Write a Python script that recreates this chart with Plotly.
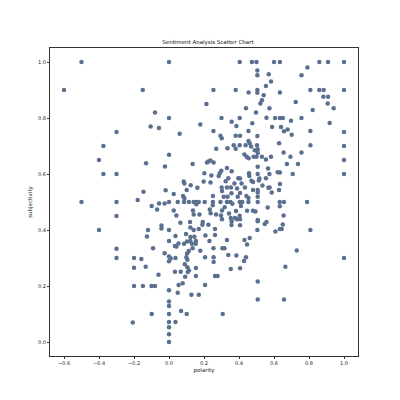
import plotly.graph_objects as go

# polarity / subjectivity values, grouped by region of the plot
polarity = [
    -0.5, -0.6, -0.15, -0.08, -0.105, -0.057, -0.3, -0.375,
    -0.4, -0.131, -0.375, -0.3, -0.146, -0.5, -0.3, -0.179, -0.099, -0.068, -0.057, -0.3, -0.4, -0.12, -0.126, -0.3, -0.091,
    -0.3, -0.2, -0.158, -0.2, -0.133, -0.06, -0.2, -0.149, -0.1, -0.08, -0.099, -0.207,
    0.0, 0.404, 0.474, 0.5, 0.505, 0.505, 0.254, 0.381, 0.455, 0.505, 0.505, 0.214, 0.44, 0.497,
    0.0, 0.3, 0.404, 0.358, 0.476, 0.179, 0.385, 0.061, 0.254, 0.454, 0.294, 0.381, 0.406, 0.505,
    0.301, 0.454, 0.461, 0.37, 0.404, 0.438, 0.469, 0.503, 0.27, 0.334, 0.381,
    0.6, 0.634, 0.859, 0.909, 1.0, 0.57, 0.791, 0.757, 0.583, 0.554, 0.634, 0.808, 0.859, 0.884, 1.0,
    0.541, 0.882, 0.909, 0.531, 0.522, 0.724, 0.907, 0.941, 0.574, 0.821, 0.557, 0.606, 0.634, 0.65,
    0.757, 0.697, 0.918, 0.589, 0.64, 0.678, 0.657, 0.808, 1.0, 0.701, 0.629, 0.808, 1.0,
    0.507, 0.49, 0.655, 0.757, 0.507, 0.484, 0.5, 0.531, 0.583, 0.694, 0.554, 1.0, 0.674, 0.737,
    0.507, 0.566, 0.507, 0.574, 0.621, 0.634, 0.707, 1.0, 0.517, 0.554, 0.471, 0.48, 0.513, 0.634,
    0.534, 0.575, 0.568, 0.48, 0.507, 0.507, 0.629, 0.587, 0.507, 0.507, 0.633, 0.657, 0.789, 0.633,
    0.564, 0.48, 0.494, 0.655, 0.507, 0.507, 0.557, 0.547, 0.65, 0.634, 0.644, 0.608, 0.808, 0.461,
    0.73, 1.0, 0.665, 0.507, 0.507, 0.657,
    0.0, -0.025, 0.0, 0.01, 0.037, 0.0, 0.034, 0.042, 0.054, 0.086, 0.103, 0.122, 0.131, 0.154, 0.153,
    0.231, 0.254, 0.331, 0.431, 0.446, 0.305, 0.317, 0.135, 0.113, 0.179, 0.103, 0.099, 0.105, 0.09,
    0.206, 0.255, 0.255, 0.339, 0.385, 0.44, 0.429, 0.406, 0.353, 0.105, 0.154, 0.114, 0.107, 0.034,
    0.067, 0.092, 0.154, 0.263, 0.278, 0.078, 0.055, 0.206, 0.0, 0.05, 0.128, 0.17, 0.0, 0.0, 0.0,
    0.069, 0.101, 0.307, 0.0, 0.037, 0.0, 0.0, 0.0,
    0.0, -0.023, 0.135, 0.431, 0.444, 0.455, 0.225, 0.237, 0.255, 0.217, 0.331, 0.299, 0.358, 0.29,
    0.202, 0.242, 0.284, 0.457, 0.459, 0.396, 0.339, 0.406, 0.084, 0.088, 0.237, 0.198, 0.124, 0.374,
    0.415, 0.324, 0.162, 0.301, 0.331, 0.354, 0.303, 0.389, 0.434, 0.101, -0.019, 0.406, 0.357, 0.027,
    0.08, 0.251, 0.442, 0.313, 0.335, 0.393, 0.454, 0.088, -0.025, 0.0, 0.05, 0.086, 0.114, 0.141,
    0.154, 0.17, 0.204, 0.251, 0.294, 0.331, 0.351, 0.404, 0.419, 0.454, 0.156, 0.362, 0.25, 0.411,
    0.318, 0.303, 0.027, 0.137, 0.233, 0.383, 0.446, 0.042, 0.141, 0.174, 0.238, 0.269, 0.297, 0.343,
    0.404, 0.303, 0.353, 0.377, 0.389, 0.406, 0.065, 0.12, 0.193, 0.358, 0.191, 0.225, 0.357, 0.406,
    -0.043, -0.043, 0.122, 0.17, 0.141, 0.263, 0.0, 0.505, 0.037, 0.097, 0.122, 0.145, 0.208, 0.263,
]
subjectivity = [
    1.0, 0.9, 0.9, 0.82, 0.77, 0.764, 0.75, 0.7,
    0.65, 0.638, 0.6, 0.6, 0.537, 0.5, 0.5, 0.507, 0.486, 0.473, 0.495, 0.45, 0.4, 0.4, 0.377, 0.333, 0.335,
    0.3, 0.3, 0.296, 0.265, 0.269, 0.24, 0.2, 0.2, 0.2, 0.2, 0.1, 0.07,
    1.0, 1.0, 1.0, 1.0, 0.97, 0.953, 0.9, 0.9, 0.891, 0.9, 0.89, 0.85, 0.835, 0.82,
    0.8, 0.8, 0.8, 0.787, 0.781, 0.777, 0.771, 0.744, 0.754, 0.754, 0.737, 0.737, 0.737, 0.736,
    0.728, 0.718, 0.71, 0.703, 0.703, 0.703, 0.698, 0.703, 0.69, 0.692, 0.69,
    1.0, 1.0, 1.0, 1.0, 1.0, 0.956, 0.98, 0.953, 0.93, 0.914, 0.891, 0.9, 0.9, 0.9, 0.9,
    0.881, 0.876, 0.876, 0.863, 0.852, 0.857, 0.852, 0.835, 0.835, 0.829, 0.801, 0.8, 0.8, 0.8,
    0.8, 0.79, 0.782, 0.768, 0.768, 0.759, 0.753, 0.754, 0.75, 0.74, 0.71, 0.703, 0.7,
    0.688, 0.685, 0.677, 0.677, 0.675, 0.662, 0.662, 0.662, 0.662, 0.662, 0.652, 0.65, 0.636, 0.636,
    0.626, 0.62, 0.6, 0.6, 0.606, 0.605, 0.6, 0.6, 0.584, 0.585, 0.576, 0.571, 0.577, 0.564,
    0.559, 0.552, 0.551, 0.543, 0.543, 0.534, 0.543, 0.534, 0.519, 0.5, 0.5, 0.5, 0.5, 0.485,
    0.48, 0.469, 0.466, 0.452, 0.436, 0.431, 0.429, 0.421, 0.42, 0.404, 0.404, 0.395, 0.4, 0.371,
    0.327, 0.3, 0.269, 0.216, 0.152, 0.152,
    0.361, 0.317, 0.305, 0.298, 0.3, 0.288, 0.343, 0.341, 0.352, 0.351, 0.359, 0.361, 0.351, 0.361, 0.351,
    0.361, 0.335, 0.364, 0.364, 0.348, 0.335, 0.335, 0.335, 0.325, 0.326, 0.316, 0.303, 0.294, 0.278,
    0.303, 0.303, 0.286, 0.311, 0.309, 0.303, 0.289, 0.263, 0.261, 0.267, 0.264, 0.255, 0.25, 0.251,
    0.251, 0.233, 0.236, 0.236, 0.236, 0.21, 0.204, 0.204, 0.185, 0.176, 0.169, 0.169, 0.145, 0.129, 0.1,
    0.111, 0.1, 0.1, 0.071, 0.071, 0.053, 0.028, 0.0,
    0.669, 0.627, 0.636, 0.67, 0.662, 0.656, 0.645, 0.648, 0.641, 0.641, 0.621, 0.612, 0.61, 0.603,
    0.603, 0.595, 0.593, 0.603, 0.593, 0.585, 0.585, 0.584, 0.573, 0.566, 0.57, 0.573, 0.56, 0.566,
    0.566, 0.574, 0.551, 0.552, 0.552, 0.552, 0.539, 0.548, 0.552, 0.543, 0.542, 0.532, 0.531, 0.529,
    0.521, 0.521, 0.521, 0.519, 0.519, 0.519, 0.514, 0.513, 0.495, 0.5, 0.5, 0.5, 0.5, 0.5,
    0.5, 0.5, 0.5, 0.5, 0.5, 0.5, 0.5, 0.5, 0.5, 0.5, 0.492, 0.494, 0.488, 0.486,
    0.481, 0.47, 0.47, 0.47, 0.473, 0.468, 0.469, 0.452, 0.455, 0.455, 0.46, 0.455, 0.452, 0.459,
    0.451, 0.438, 0.443, 0.443, 0.438, 0.438, 0.426, 0.429, 0.429, 0.431, 0.419, 0.419, 0.418, 0.417,
    0.416, 0.405, 0.409, 0.404, 0.4, 0.404, 0.4, 0.4, 0.379, 0.386, 0.375, 0.376, 0.38, 0.382,
]

x_ticks = [-0.6, -0.4, -0.2, 0.0, 0.2, 0.4, 0.6, 0.8, 1.0]
y_ticks = [0.0, 0.2, 0.4, 0.6, 0.8, 1.0]

fig = go.Figure()
fig.add_scatter(x=polarity, y=subjectivity, mode='markers',
                marker=dict(size=4.5, color='#5b6f8f', line=dict(width=0)),
                showlegend=False)

axis_style = dict(showgrid=False, zeroline=False, showline=True, linecolor='#333333',
                  linewidth=1, mirror=True, ticks='outside', ticklen=2, tickwidth=1,
                  tickcolor='#333333', tickfont=dict(size=5, color='#222222'))

fig.update_xaxes(range=[-0.68, 1.08], tickvals=x_ticks,
                 ticktext=[f'{v:.1f}'.replace('-', '\u2212') for v in x_ticks],
                 title=dict(text='polarity', font=dict(size=5.5, color='#222222'), standoff=3),
                 **axis_style)
fig.update_yaxes(range=[-0.05, 1.05], tickvals=y_ticks,
                 ticktext=[f'{v:.1f}' for v in y_ticks],
                 title=dict(text='subjectivity', font=dict(size=5.5, color='#222222'), standoff=5),
                 **axis_style)

# the page body has an 8px margin, so the figure is 392 wide/high and shifted margins
fig.update_layout(
    width=392, height=392,
    margin=dict(l=42, r=42, t=40, b=44),
    paper_bgcolor='white', plot_bgcolor='white',
    font=dict(family='DejaVu Sans'),
    title=dict(text='Sentiment Analysis Scatter Chart', x=0.51, xanchor='center',
               y=0.912, yanchor='middle', font=dict(size=5.5, color='#111111')),
)

fig.write_html("out.html")
